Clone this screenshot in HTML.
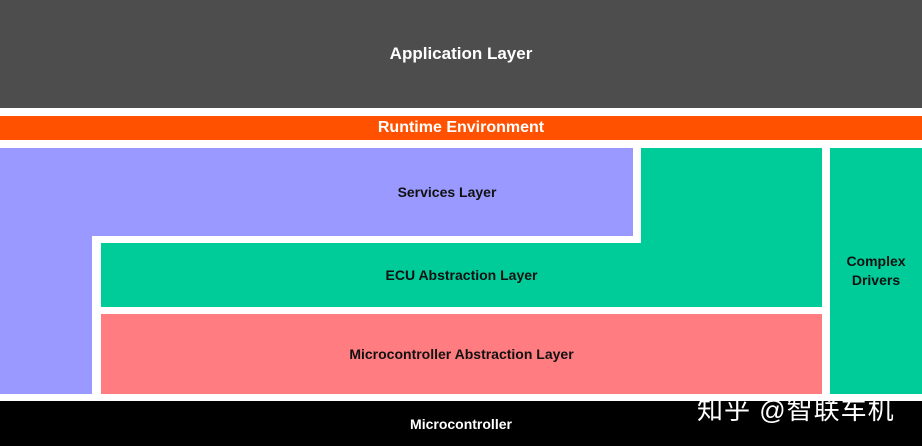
<!DOCTYPE html>
<html><head><meta charset="utf-8"><style>
body{margin:0;width:922px;height:446px;background:#fff;position:relative;overflow:hidden;font-family:"Liberation Sans","Noto Sans CJK SC",sans-serif;font-weight:bold}
div{position:absolute}
.t{display:flex;align-items:center;justify-content:center;text-align:center}
</style></head><body>
<div class="t" style="left:0;top:0;width:922px;height:108px;background:#4d4d4d;color:#fff;font-size:17px">Application Layer</div>
<div class="t" style="left:0;top:116px;width:922px;height:24px;background:#ff5100;color:#fff;font-size:16px">Runtime Environment</div>
<div style="left:0;top:148px;width:633px;height:88px;background:#9999ff"></div>
<div style="left:0;top:148px;width:92px;height:246px;background:#9999ff"></div>
<div class="t" style="left:347px;top:148px;width:200px;height:88px;color:#111;font-size:14px">Services Layer</div>
<div style="left:641px;top:148px;width:181px;height:159px;background:#00cc99"></div>
<div class="t" style="left:101px;top:243px;width:721px;height:64px;background:#00cc99;color:#111;font-size:14px">ECU Abstraction Layer</div>
<div class="t" style="left:101px;top:314px;width:721px;height:80px;background:#ff7c80;color:#111;font-size:14px">Microcontroller Abstraction Layer</div>
<div class="t" style="left:830px;top:148px;width:92px;height:246px;background:#00cc99;color:#111;font-size:14px;line-height:19px">Complex<br>Drivers</div>
<div class="t" style="left:0;top:401px;width:922px;height:45px;background:#000;color:#fff;font-size:14px">Microcontroller</div>
<div style="left:697px;top:390px;color:#fff;font-weight:normal;font-size:26px;letter-spacing:1px;white-space:nowrap">知乎 @智联车机</div>
</body></html>
